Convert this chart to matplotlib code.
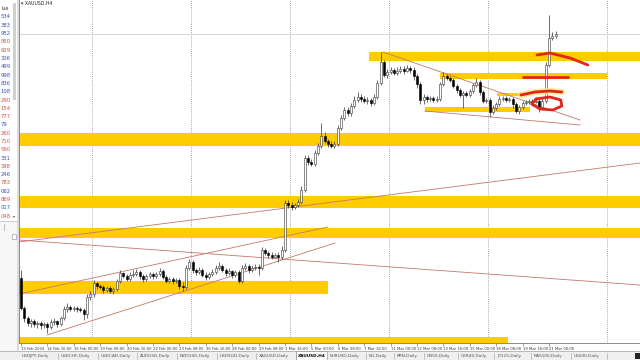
import numpy as np
import matplotlib
matplotlib.use('Agg')
from matplotlib import pyplot as plt
from matplotlib.patches import Rectangle

# XAUUSD H4 candles, 13 Feb - 21 Mar 2024
opens = [2025.5, 2003, 1995.5, 1991.75, 1993.25, 1991, 1991.75, 1990.25, 1991, 1988.75,
         1992.5, 1993.25, 1991, 1995.5, 2002.25, 2003.75, 2002.25, 2003, 2002.25, 2001.5,
         1998.5, 2011.25, 2013.5, 2021.75, 2019.5, 2018.75, 2016.5, 2018, 2015.75, 2017.25,
         2023.25, 2029.25, 2027, 2024.75, 2027.75, 2028.5, 2030, 2027, 2024.75, 2027,
         2028.5, 2027, 2028.5, 2030.75, 2026.25, 2023.25, 2024.75, 2023.25, 2024, 2019.5,
         2018.75, 2033, 2037.5, 2031.5, 2030, 2031.5, 2027.75, 2026.25, 2028.5, 2030,
         2033, 2034.5, 2031.5, 2029.25, 2030.75, 2027.75, 2030, 2023.25, 2033, 2034.5,
         2031.5, 2033, 2033.75, 2033, 2046.5, 2044.25, 2042.75, 2041.25, 2042.75, 2041.25,
         2046.5, 2081.75, 2080.25, 2078.75, 2080.25, 2082.5, 2091.5, 2115.5, 2112.5, 2111,
         2119.25, 2124.5, 2132, 2128.25, 2126, 2124.5, 2126, 2138, 2145.5, 2151.5,
         2149.25, 2154.5, 2159, 2161.25, 2159.75, 2158.25, 2159, 2156.75, 2161.25, 2171.75,
         2187.5, 2177.75, 2180, 2181.5, 2179.25, 2180.75, 2182.25, 2180.75, 2183, 2181.5,
         2177, 2171, 2159, 2161.25, 2159.75, 2160.5, 2159, 2159.75, 2171, 2177,
         2175.5, 2174, 2169.5, 2166.5, 2162.75, 2164.25, 2162.75, 2165.75, 2170.25, 2172.5,
         2165, 2158.25, 2159, 2150, 2153, 2156, 2159.75, 2160.5, 2159, 2159.75,
         2156, 2150.75, 2153.75, 2156.75, 2157.5, 2158.25, 2157.5, 2158.25, 2153.75, 2158.25,
         2185.25, 2205.5, 2207]
highs = [2031.5, 2004.5, 1997, 1994.75, 1994.75, 1993.25, 1993.25, 1992.5, 1992.5, 1994.75,
         1995.5, 1994, 1997, 2004.5, 2006.75, 2005.25, 2004.5, 2004.5, 2003.75, 2003,
         2013.5, 2015.75, 2024, 2022.5, 2021, 2020.25, 2019.5, 2019.5, 2018.75, 2024.75,
         2031.5, 2030, 2028.5, 2030, 2031.5, 2032.25, 2031.5, 2028.5, 2028.5, 2030,
         2030, 2030, 2033, 2032.25, 2027.75, 2026.25, 2026.25, 2025.5, 2025.5, 2022.5,
         2035.25, 2039.75, 2039, 2033, 2033.75, 2033, 2030, 2030, 2032.25, 2035.25,
         2037.5, 2036, 2033, 2033, 2031.5, 2031.5, 2031.5, 2035.25, 2036.75, 2036,
         2035.25, 2036, 2036, 2048.75, 2048, 2045.75, 2045, 2044.25, 2045, 2049.5,
         2084, 2084, 2082.5, 2081.75, 2084.75, 2094.5, 2117.75, 2117.75, 2114.75, 2121.5,
         2126.75, 2141.75, 2135, 2129.75, 2128.25, 2128.25, 2140.25, 2147.75, 2153.75, 2153.75,
         2156.75, 2162, 2165, 2163.5, 2162, 2161.25, 2160.5, 2163.5, 2174, 2195,
         2189, 2182.25, 2183.75, 2183, 2183.75, 2184.5, 2184.5, 2185.25, 2184.5, 2183.75,
         2178.5, 2172.5, 2163.5, 2162.75, 2162, 2162, 2162, 2172.5, 2180, 2178.5,
         2177, 2175.5, 2171, 2168, 2165.75, 2165.75, 2167.25, 2171.75, 2175.5, 2174,
         2166.5, 2160.5, 2160.5, 2155.25, 2157.5, 2162, 2162, 2162, 2161.25, 2161.25,
         2157.5, 2155.25, 2158.25, 2159, 2159.75, 2159.75, 2159.75, 2159.75, 2160.5, 2187.5,
         2222.75, 2210, 2210.75]
lows = [2001.5, 1992.5, 1989.5, 1988.75, 1988.75, 1988, 1987.25, 1988, 1984.25, 1987.25,
        1990.25, 1988.75, 1989.5, 1994, 2000, 2000.75, 2000.75, 2000, 2000, 1994,
        1995.5, 2009, 2011.25, 2017.25, 2017.25, 2014.25, 2015, 2014.25, 2013.5, 2015.75,
        2021.75, 2025.5, 2023.25, 2023.25, 2026.25, 2027, 2024.75, 2022.5, 2023.25, 2025.5,
        2024.75, 2025.5, 2027, 2024.75, 2021.75, 2021.75, 2021, 2021.75, 2017.25, 2015.75,
        2017.25, 2031.5, 2029.25, 2027.75, 2028.5, 2026.25, 2024, 2024.75, 2027, 2028.5,
        2031.5, 2030, 2027, 2027.75, 2025.5, 2026.25, 2021.75, 2021.75, 2031.5, 2029.25,
        2030, 2031.5, 2027.75, 2031.5, 2042.75, 2040.5, 2039.75, 2040.5, 2037.5, 2039.75,
        2045, 2078, 2076.5, 2077.25, 2078.75, 2081, 2090, 2110.25, 2109.5, 2109.5,
        2117.75, 2123, 2126.75, 2123.75, 2123, 2123, 2124.5, 2136.5, 2144, 2147,
        2147, 2153, 2157.5, 2157.5, 2156.75, 2156, 2154.5, 2155.25, 2159.75, 2170.25,
        2176.25, 2175.5, 2178.5, 2177.75, 2177.75, 2179.25, 2178.5, 2180, 2179.25, 2174,
        2168, 2156, 2156, 2157.5, 2158.25, 2157.5, 2157.5, 2158.25, 2169.5, 2174,
        2172.5, 2168, 2164.25, 2161.25, 2153, 2161.25, 2161.25, 2164.25, 2168.75, 2162.75,
        2156.75, 2156.75, 2146.25, 2148.5, 2151.5, 2154.5, 2158.25, 2157.5, 2157.5, 2153,
        2149.25, 2148.5, 2152.25, 2155.25, 2156, 2156, 2156.75, 2150, 2152.25, 2156.75,
        2183.75, 2204, 2205.5]
closes = [2003, 1995.5, 1991.75, 1993.25, 1991, 1991.75, 1990.25, 1991, 1988.75, 1992.5,
          1993.25, 1991, 1995.5, 2002.25, 2003.75, 2002.25, 2003, 2002.25, 2001.5, 1998.5,
          2011.25, 2013.5, 2021.75, 2019.5, 2018.75, 2016.5, 2018, 2015.75, 2017.25, 2023.25,
          2029.25, 2027, 2024.75, 2027.75, 2028.5, 2030, 2027, 2024.75, 2027, 2028.5,
          2027, 2028.5, 2030.75, 2026.25, 2023.25, 2024.75, 2023.25, 2024, 2019.5, 2018.75,
          2033, 2037.5, 2031.5, 2030, 2031.5, 2027.75, 2026.25, 2028.5, 2030, 2033,
          2034.5, 2031.5, 2029.25, 2030.75, 2027.75, 2030, 2023.25, 2033, 2034.5, 2031.5,
          2033, 2033.75, 2033, 2046.5, 2044.25, 2042.75, 2041.25, 2042.75, 2041.25, 2046.5,
          2081.75, 2080.25, 2078.75, 2080.25, 2082.5, 2091.5, 2115.5, 2112.5, 2111, 2119.25,
          2124.5, 2132, 2128.25, 2126, 2124.5, 2126, 2138, 2145.5, 2151.5, 2149.25,
          2154.5, 2159, 2161.25, 2159.75, 2158.25, 2159, 2156.75, 2161.25, 2171.75, 2187.5,
          2177.75, 2180, 2181.5, 2179.25, 2180.75, 2182.25, 2180.75, 2183, 2181.5, 2177,
          2171, 2159, 2161.25, 2159.75, 2160.5, 2159, 2159.75, 2171, 2177, 2175.5,
          2174, 2169.5, 2166.5, 2162.75, 2164.25, 2162.75, 2165.75, 2170.25, 2172.5, 2165,
          2158.25, 2159, 2150, 2153, 2156, 2159.75, 2160.5, 2159, 2159.75, 2156,
          2150.75, 2153.75, 2156.75, 2157.5, 2158.25, 2157.5, 2158.25, 2153.75, 2158.25, 2185.25,
          2205.5, 2207, 2208.5]

time_labels = ['13 Feb 2024', '14 Feb 16:00', '16 Feb 00:00', '19 Feb 08:00', '20 Feb 16:00',
               '22 Feb 00:00', '23 Feb 08:00', '26 Feb 16:00', '28 Feb 00:00', '29 Feb 08:00',
               '1 Mar 16:00', '5 Mar 00:00', '6 Mar 08:00', '7 Mar 16:00', '11 Mar 00:00',
               '12 Mar 08:00', '13 Mar 16:00', '15 Mar 00:00', '18 Mar 08:00', '19 Mar 16:00',
               '21 Mar 00:00']

# yellow boxes: first bar, last bar, top price, bottom price
zone_first = [105.5, 127, 144.2, 122.4, -1, -1, -1, -1, -1]
zone_last = [190, 177.6, 154.2, 154.2, 190, 190, 190, 93.0, 147.6]
zone_top = [2195, 2179.25, 2164.25, 2153.75, 2134.25, 2087, 2063, 2023.25, 1981.25]
zone_bottom = [2188.25, 2174.75, 2162, 2150, 2124.5, 2078, 2055.5, 2013.5, 1976.75]

# trend lines (bar, price) -> (bar, price)
trend_bar0 = [-0.6, -0.6, -0.6, 7.9, 109.7, 122.4]
trend_price0 = [2052.5, 2054, 2013.5, 1982.75, 2195, 2150.75]
trend_bar1 = [187.6, 187.6, 93.0, 95.2, 169.4, 169.4]
trend_price1 = [2111.75, 2020.25, 2063.75, 2051.75, 2144, 2140.25]

# red marker scribbles
red_bars = [[156.4, 160.3, 166.4, 171.8],
            [152.1, 165.8],
            [151.5, 155.8, 160.3, 163.9],
            [156.1, 160.3, 163.6, 163.9, 161.2, 157.3, 154.8, 156.1]]
red_prices = [[2192.75, 2194.25, 2190.5, 2185.25],
              [2176.25, 2176.25],
              [2162.75, 2165, 2165.75, 2165],
              [2159.75, 2161.25, 2159, 2154.5, 2151.5, 2152.25, 2156, 2159.75]]

grid_bars = [21.5, 51.5, 81.5, 111.5, 141.5, 177.5]
last_price = 2208.5

watch_values = ['534', '383', '952', '950', '629', '306', '499', '998', '836', '108', '290', '154',
                '777', '79', '260', '710', '590', '331', '398', '246', '783', '062', '869', '017', '048']
watch_up = [1, 1, 1, 0, 0, 1, 1, 1, 1, 1, 0, 0, 0, 1, 0, 0, 0, 1, 0, 1, 0, 1, 0, 1, 0]

tabs = ['USDJPY,Daily', 'USDCHF,Daily', 'USDCAD,Daily', 'AUDUSD,Daily', 'NZDUSD,Daily',
        'USDSGD,Daily', 'XAGUSD,Daily', 'XAUUSD,H4', 'EURUSD,Daily', 'NG,Daily', 'BRN,Daily',
        'CN50,Daily', 'GER40,Daily', 'JP225,Daily', 'NAS100,Daily', 'US500,Daily']
active_tab = 'XAUUSD,H4'

fig = plt.figure(figsize=(6.4, 3.6), dpi=100)
fig.patch.set_facecolor('white')

# ---- main chart
ax = fig.add_axes([19 / 640, 17 / 360, 621 / 640, 343 / 360])
ax.set_xlim(-0.6, 187.6)
ax.set_ylim(1976.75, 2234)

for i in range(len(zone_first)):
    ax.add_patch(Rectangle((zone_first[i], zone_bottom[i]), zone_last[i] - zone_first[i],
                           zone_top[i] - zone_bottom[i], facecolor='#ffcc00', lw=0, zorder=1))

for gx in grid_bars:
    ax.axvline(gx, color='#8c8c8c', lw=0.6, ls=(0, (1, 1.5)), zorder=0)
ax.axhline(last_price, color='#d0d0d0', lw=0.6, zorder=0)

for i in range(len(trend_bar0)):
    ax.plot([trend_bar0[i], trend_bar1[i]], [trend_price0[i], trend_price1[i]],
            color='#c57766', lw=0.6, zorder=2)

x = np.arange(len(closes))
o = np.array(opens)
c = np.array(closes)
h = np.array(highs)
l = np.array(lows)
up = c >= o
ax.vlines(x, l, h, color='#333333', lw=0.5, zorder=3)
body_lo = np.minimum(o, c)
body_h = np.maximum(np.abs(c - o), 0.4)
ax.bar(x[up], body_h[up], bottom=body_lo[up], width=0.62, color='white',
       edgecolor='#333333', linewidth=0.4, zorder=4)
ax.bar(x[~up], body_h[~up], bottom=body_lo[~up], width=0.62, color='black',
       edgecolor='black', linewidth=0.4, zorder=4)

# yellow glow under the third scribble, then the red marker strokes
ax.plot(red_bars[2], red_prices[2], color='#ffe680', lw=4.5, alpha=0.8,
        solid_capstyle='round', zorder=5)
for rb, rp in zip(red_bars, red_prices):
    ax.plot(rb, rp, color='#e3241b', lw=2.0, solid_capstyle='round',
            solid_joinstyle='round', zorder=6)

ax.text(0.004, 0.999, '\u25be XAUUSD,H4', transform=ax.transAxes, fontsize=3.3,
        color='#222222', va='top', ha='left')

ax.set_xticks(np.arange(0, 8 * len(time_labels), 8))
ax.set_xticklabels(time_labels, ha='left', fontsize=2.7, color='#333333')
ax.tick_params(axis='x', length=2, width=0.4, color='#555555', pad=1)
ax.set_yticks([])
for s in ['top', 'right']:
    ax.spines[s].set_visible(False)
for s in ['left', 'bottom']:
    ax.spines[s].set_color('#777777')
    ax.spines[s].set_linewidth(0.6)

# ---- market watch strip on the left
lp = fig.add_axes([0, 9 / 360, 19 / 640, 351 / 360])
lp.set_xlim(0, 19)
lp.set_ylim(351, 0)
lp.axis('off')
lp.add_patch(Rectangle((0, 0), 17, 221, facecolor='white', lw=0))
lp.add_patch(Rectangle((0, 221), 17, 130, facecolor='#f7f7f7', lw=0))
lp.add_patch(Rectangle((17, 0), 2, 351, facecolor='#dcdcdc', lw=0))
lp.add_patch(Rectangle((12.5, 3), 3.5, 97, facecolor='#d0d0d0', lw=0))
lp.text(1, 8, 'lue', fontsize=3.4, color='#333333', va='center')
for k, v in enumerate(watch_values):
    lp.text(0.5, 17 + 8.3 * k, v, fontsize=3.8, va='center', ha='left',
            color='#3a4fc0' if watch_up[k] else '#d0503c')
lp.text(13, 216, '\u25be', fontsize=3, color='#555555', va='center')
lp.plot([0, 17], [221, 221], color='#bbbbbb', lw=0.5)
lp.plot([4, 4], [224, 230], color='#888888', lw=0.4)
lp.add_patch(Rectangle((12, 234), 4, 5, facecolor='white', edgecolor='#888888', lw=0.4))

# ---- chart tabs along the bottom
tb = fig.add_axes([0, 0, 1, 9 / 360])
tb.set_xlim(0, 640)
tb.set_ylim(0, 9)
tb.axis('off')
tb.add_patch(Rectangle((0, 0), 640, 9, facecolor='#efefef', lw=0))
tb.plot([0, 640], [8.8, 8.8], color='#a0a0a0', lw=0.5)
pos = 20
for name in tabs:
    w = 3.0 * len(name) + 3.6
    if name == active_tab:
        tb.add_patch(Rectangle((pos - 1, 0), w, 9, facecolor='white', edgecolor='#888888', lw=0.4))
        tb.text(pos + 1, 4.5, name, fontsize=3.1, color='black', va='center', weight='bold')
    else:
        tb.text(pos + 1.5, 4.5, name, fontsize=3.1, color='#555555', va='center')
        tb.plot([pos + w - 1.5, pos + w - 1.5], [1.5, 7.5], color='#9a9a9a', lw=0.4)
    pos += w
tb.add_patch(Rectangle((635, 1), 5, 6, facecolor='#222222', lw=0))

fig.savefig('out.png', dpi=100)
